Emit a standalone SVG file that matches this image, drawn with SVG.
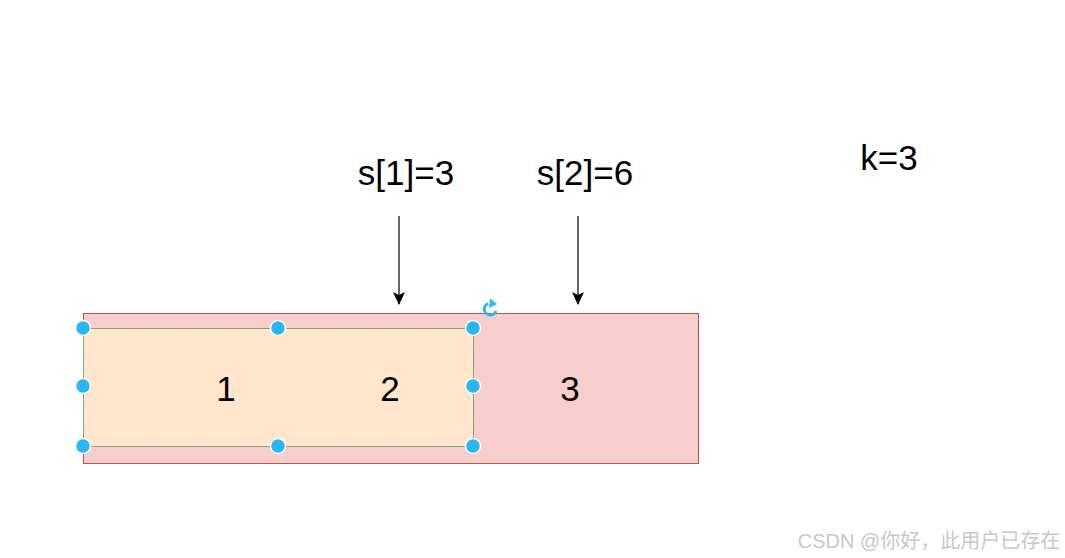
<svg xmlns="http://www.w3.org/2000/svg" width="1065" height="558" viewBox="0 0 1065 558">
<style>
.t{font-family:"Liberation Sans",Arial,sans-serif;font-size:35px;fill:#000;text-anchor:middle}
.h{fill:#29b6f2;stroke:#fff;stroke-width:1.5}
</style>
<rect width="1065" height="558" fill="#fff"/>
<g id="outer">
<rect x="83.5" y="313.5" width="615" height="150" fill="#f8cecc" stroke="#b85450" stroke-width="1"/>
<text class="t" x="570" y="401">3</text>
</g>
<g id="inner">
<rect x="83.5" y="328.5" width="390" height="118" fill="#ffe6cc" stroke="#d79b00" stroke-width="1"/>
<rect x="83.5" y="328.5" width="390" height="118" fill="none" stroke="#29b6f2" stroke-width="1" stroke-dasharray="3,3"/>
<text class="t" x="226" y="401">1</text>
<text class="t" x="390" y="401">2</text>
</g>
<g id="handles">
<circle class="h" cx="83" cy="328" r="7.5"/>
<circle class="h" cx="278" cy="328" r="7.5"/>
<circle class="h" cx="473" cy="328" r="7.5"/>
<circle class="h" cx="83" cy="386" r="7.5"/>
<circle class="h" cx="473" cy="386" r="7.5"/>
<circle class="h" cx="83" cy="446" r="7.5"/>
<circle class="h" cx="278" cy="446" r="7.5"/>
<circle class="h" cx="473" cy="446" r="7.5"/>
<path d="M488,303.5 A6,6 0 1 0 496,311" fill="none" stroke="#29b6f2" stroke-width="2.8"/>
<path d="M490,298.5 L497,304 L489,308 Z" fill="#29b6f2"/>
</g>
<g id="labels">
<text class="t" x="406" y="185">s[1]=3</text>
<text class="t" x="585" y="185">s[2]=6</text>
<text class="t" x="889" y="170">k=3</text>
</g>
<g id="connectors">
<line x1="399" y1="216" x2="399" y2="304" stroke="#000" stroke-width="1.2"/>
<path d="M393,292 L399,305 L405,292 L399,295 Z" fill="#000"/>
<line x1="578" y1="216" x2="578" y2="304" stroke="#000" stroke-width="1.2"/>
<path d="M572,292 L578,305 L584,292 L578,295 Z" fill="#000"/>
</g>
<text x="929" y="548" style="font-family:'Liberation Sans','Noto Sans CJK SC',sans-serif;font-size:20px;fill:#c8c8c8;text-anchor:middle">CSDN @你好，此用户已存在</text>
</svg>
